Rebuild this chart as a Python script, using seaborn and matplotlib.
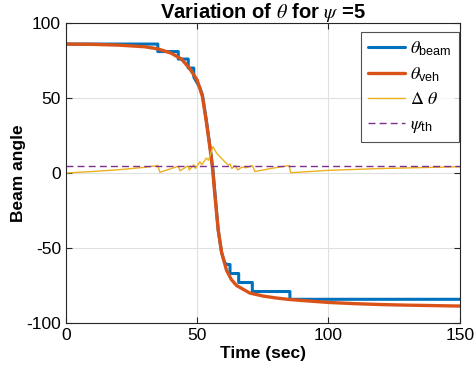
import seaborn as sns
import matplotlib.pyplot as plt

# time / value pairs
veh_t = [0, 10, 20, 30, 35, 40, 44, 47, 50, 52, 53.5, 55, 55.8, 56.7, 58, 59.3,
         61.2, 63, 65, 70, 75, 80, 85, 90, 100, 110, 120, 130, 140, 150]
veh_y = [86, 85.8, 85.3, 84.2, 82.8, 80, 76, 70, 62, 51, 34, 15, 4, -14, -38, -53,
         -65, -71, -75, -80, -82, -83.3, -84.3, -85, -86.3, -87.1, -87.7, -88.1, -88.4, -88.7]

beam_t = [0, 35, 35, 42.8, 42.8, 46.6, 46.6, 48.7, 48.7, 51, 52, 53.5, 55, 56, 57, 58,
          59.3, 60.5, 61.5, 62.5, 62.5, 65.8, 65.8, 71, 71, 85.3, 85.3, 150]
beam_y = [86, 86, 81, 81, 76, 76, 70, 70, 64, 57, 52, 35, 16, 2, -18, -38,
          -53, -60, -61, -61, -67, -67, -73, -73, -79, -79, -84.2, -84.2]

dtheta_t = [0, 10, 20, 30, 35, 35.8, 42.8, 43.5, 46.5, 47, 48.7, 49.3, 51, 51.8, 53.5,
            54.3, 56, 57.5, 58.6, 60.5, 61.8, 62.5, 63.2, 64.5, 65.5, 67, 68.5, 71, 72,
            78, 85, 85.6, 100, 120, 150]
dtheta_y = [0, 1.0, 2.2, 3.8, 5, 0.5, 4.5, 1.5, 4.8, 2, 5.5, 3, 7.5, 5.5, 10,
            8.5, 17.5, 13, 11, 7.5, 5.3, 6, 3, 5, 2, 4, 3.5, 5, 1,
            3, 5, 0.2, 1.8, 3, 4.2]

psi_th = 5

sns.set_style("whitegrid")
plt.rcParams['font.family'] = ['Liberation Sans', 'DejaVu Sans']
plt.rcParams['mathtext.fontset'] = 'stix'
plt.rcParams['axes.unicode_minus'] = False
plt.rcParams['xtick.direction'] = 'in'
plt.rcParams['ytick.direction'] = 'in'
plt.rcParams['text.color'] = 'black'
plt.rcParams['axes.labelcolor'] = 'black'
plt.rcParams['xtick.labelcolor'] = 'black'
plt.rcParams['ytick.labelcolor'] = 'black'

fig = plt.figure(figsize=(4.74, 3.78), dpi=100)
ax = fig.add_axes([0.139, 0.1455, 0.831, 0.7935])

sns.lineplot(x=beam_t, y=beam_y, estimator=None, sort=False, color='#0072BD',
             linewidth=2.2, label=r'$\theta_\mathregular{beam}$', ax=ax)
sns.lineplot(x=veh_t, y=veh_y, estimator=None, sort=False, color='#D95319',
             linewidth=2.4, label=r'$\theta_\mathregular{veh}$', ax=ax)
sns.lineplot(x=dtheta_t, y=dtheta_y, estimator=None, sort=False, color='#EDB120',
             linewidth=1.0, label=r'$\Delta\ \theta$', ax=ax)
sns.lineplot(x=[0, 150], y=[psi_th, psi_th], color='#7E2F8E', linewidth=1.0,
             linestyle=(0, (5, 3)), label=r'$\psi_\mathregular{th}$', ax=ax)

ax.set_xlim(0, 150)
ax.set_ylim(-100, 100)
ax.set_xticks([0, 50, 100, 150])
ax.set_yticks([-100, -50, 0, 50, 100])
ax.tick_params(labelsize=12.5, length=4, width=0.8, color='#262626',
               top=True, right=True, bottom=True, left=True)
ax.grid(True, color='#e0e0e0', linewidth=0.8)
for s in ax.spines.values():
    s.set_color('#262626')
    s.set_linewidth(0.8)

ax.set_title(r'Variation of $\theta$ for $\psi$ =5', fontsize=14.5, fontweight='bold', pad=4)
ax.set_xlabel('Time (sec)', fontsize=12.5, fontweight='bold', labelpad=2)
ax.set_ylabel('Beam angle', fontsize=12.5, fontweight='bold', labelpad=0)

leg = ax.legend(loc='upper right', bbox_to_anchor=(0.997, 0.97), fontsize=13,
                frameon=True, fancybox=False, edgecolor='#262626', handlelength=2.0,
                borderaxespad=0, labelspacing=0.42, handletextpad=0.3, borderpad=0.4)
leg.get_frame().set_linewidth(0.8)

fig.savefig('out.png', dpi=100)
